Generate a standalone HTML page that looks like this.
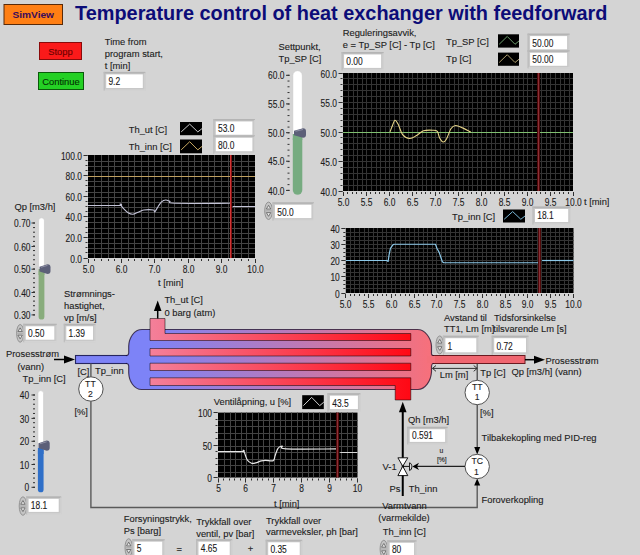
<!DOCTYPE html>
<html><head><meta charset="utf-8"><style>
html,body{margin:0;padding:0;background:#d4d4d4;width:640px;height:555px;overflow:hidden}
svg{display:block}
</style></head><body>
<svg width="640" height="555" viewBox="0 0 640 555" font-family='"Liberation Sans", sans-serif'><defs><linearGradient id="gshell" x1="0" x2="1" y1="0" y2="0"><stop offset="0" stop-color="#7d83f7"/><stop offset="0.08" stop-color="#7d83f7"/><stop offset="1" stop-color="#f8707a"/></linearGradient><linearGradient id="gtube" gradientUnits="userSpaceOnUse" x1="150" x2="411" y1="0" y2="0"><stop offset="0" stop-color="#f4809a"/><stop offset="1" stop-color="#ff0814"/></linearGradient></defs><rect x="0" y="0" width="640" height="555" fill="#d4d4d4"/>
<rect x="4.0" y="4.5" width="58.5" height="20" fill="#ff7f14" stroke="#5a2a08" stroke-width="1"/>
<text transform="translate(33.25 17.6) scale(1.08 1)" font-size="9.4" text-anchor="middle" fill="#3a0c5a" stroke="#3a0c5a" stroke-width="0" font-weight="bold" >SimView</text>
<text x="75" y="20.2" font-size="19.9" text-anchor="start" fill="#0c0c78" stroke="#0c0c78" stroke-width="0" font-weight="bold" >Temperature control of heat exchanger with feedforward</text>
<rect x="39.5" y="42.5" width="42" height="17" fill="#fa1a1a" stroke="#8a0a0a" stroke-width="1"/>
<text transform="translate(60.5 55) scale(0.965 1)" font-size="9.7" text-anchor="middle" fill="#6a0000" stroke="#6a0000" stroke-width="0.12" font-weight="normal" >Stopp</text>
<rect x="38.5" y="72.5" width="45" height="17" fill="#24d024" stroke="#0a5a0a" stroke-width="1"/>
<text transform="translate(61.0 84.6) scale(0.965 1)" font-size="9.7" text-anchor="middle" fill="#033003" stroke="#033003" stroke-width="0.12" font-weight="normal" >Continue</text>
<text transform="translate(104.8 44.9) scale(0.965 1)" font-size="9.7" text-anchor="start" fill="#1c1c1c" stroke="#1c1c1c" stroke-width="0.12" font-weight="normal" >Time from</text>
<text transform="translate(104.8 57.2) scale(0.965 1)" font-size="9.7" text-anchor="start" fill="#1c1c1c" stroke="#1c1c1c" stroke-width="0.12" font-weight="normal" >program start,</text>
<text transform="translate(104.8 69) scale(0.965 1)" font-size="9.7" text-anchor="start" fill="#1c1c1c" stroke="#1c1c1c" stroke-width="0.12" font-weight="normal" >t [min]</text>
<rect x="103.7" y="71.9" width="41.60000000000001" height="18.599999999999994" fill="#c8c8c8"/>
<rect x="103.7" y="71.9" width="41.60000000000001" height="1.6" fill="#b4b4b4"/>
<rect x="103.7" y="71.9" width="1.2" height="18.599999999999994" fill="#bcbcbc"/>
<rect x="144.3" y="72.9" width="1" height="17.599999999999994" fill="#d2d2d2"/>
<rect x="104.7" y="89.5" width="40.60000000000001" height="1" fill="#d6d6d6"/>
<rect x="106.2" y="74.4" width="36.60000000000001" height="13.599999999999994" fill="#ffffff"/>
<text transform="translate(108.4 85.4) scale(0.81 1)" font-size="10.4" text-anchor="start" fill="#1a1a1a" stroke="#1a1a1a" stroke-width="0.12" font-weight="normal" >9.2</text>
<text transform="translate(278.5 49.8) scale(0.965 1)" font-size="9.7" text-anchor="start" fill="#1c1c1c" stroke="#1c1c1c" stroke-width="0.12" font-weight="normal" >Settpunkt,</text>
<text transform="translate(278.5 62) scale(0.965 1)" font-size="9.7" text-anchor="start" fill="#1c1c1c" stroke="#1c1c1c" stroke-width="0.12" font-weight="normal" >Tp_SP [C]</text>
<rect x="292.8" y="70.7" width="9.5" height="124.10000000000001" rx="4.75" fill="#ffffff" stroke="#c8c8c8" stroke-width="0.6"/>
<rect x="292.8" y="134" width="9.5" height="60.80000000000001" rx="4.75" fill="#76ab80"/>
<rect x="292.8" y="134" width="9.5" height="6" fill="#76ab80"/>
<text transform="translate(284.5 79.39999999999999) scale(0.81 1)" font-size="10.4" text-anchor="end" fill="#1c1c1c" stroke="#1c1c1c" stroke-width="0.12" font-weight="normal" >60.0</text>
<text transform="translate(284.5 108.0) scale(0.81 1)" font-size="10.4" text-anchor="end" fill="#1c1c1c" stroke="#1c1c1c" stroke-width="0.12" font-weight="normal" >55.0</text>
<text transform="translate(284.5 136.79999999999998) scale(0.81 1)" font-size="10.4" text-anchor="end" fill="#1c1c1c" stroke="#1c1c1c" stroke-width="0.12" font-weight="normal" >50.0</text>
<text transform="translate(284.5 165.29999999999998) scale(0.81 1)" font-size="10.4" text-anchor="end" fill="#1c1c1c" stroke="#1c1c1c" stroke-width="0.12" font-weight="normal" >45.0</text>
<text transform="translate(284.5 194.5) scale(0.81 1)" font-size="10.4" text-anchor="end" fill="#1c1c1c" stroke="#1c1c1c" stroke-width="0.12" font-weight="normal" >40.0</text>
<path d="M287.5 75.30H289.5M287.5 81.05H289.5M287.5 86.81H289.5M287.5 92.56H289.5M287.5 98.32H289.5M287.5 104.07H289.5M287.5 109.83H289.5M287.5 115.59H289.5M287.5 121.34H289.5M287.5 127.09H289.5M287.5 132.85H289.5M287.5 138.61H289.5M287.5 144.36H289.5M287.5 150.12H289.5M287.5 155.87H289.5M287.5 161.62H289.5M287.5 167.38H289.5M287.5 173.13H289.5M287.5 178.89H289.5M287.5 184.64H289.5M287.5 190.40H289.5M286 75.30H289.5M286 103.90H289.5M286 132.70H289.5M286 161.20H289.5M286 190.40H289.5" stroke="#303030" stroke-width="1" fill="none"/>
<path d="M294 130.77 L303 128.3 Q306 128.3 306 131.3 V134.8 Q306 137.8 303 137.8 L294 135.33 Z" fill="#5c5f78"/>
<path d="M295.5 131.27 L303 129.5" stroke="#9a9cb0" stroke-width="0.8" fill="none"/>
<ellipse cx="268.54999999999995" cy="210.8" rx="3.850000000000006" ry="8.7" fill="#c4c4c4" stroke="#8c8c8c" stroke-width="0.9"/>
<path d="M265.4 210.80 H271.69999999999993" stroke="#a0a0a0" stroke-width="0.7"/>
<path d="M266.34999999999997 209.0 L268.54999999999995 205.3 L270.74999999999994 209.0 Z" fill="#e8e8e8" stroke="#606060" stroke-width="0.8"/>
<path d="M266.34999999999997 212.60000000000002 L268.54999999999995 216.3 L270.74999999999994 212.60000000000002 Z" fill="#e8e8e8" stroke="#606060" stroke-width="0.8"/>
<rect x="272.5" y="202.3" width="41.39999999999998" height="18.299999999999983" fill="#c8c8c8"/>
<rect x="272.5" y="202.3" width="41.39999999999998" height="1.6" fill="#b4b4b4"/>
<rect x="272.5" y="202.3" width="1.2" height="18.299999999999983" fill="#bcbcbc"/>
<rect x="312.9" y="203.3" width="1" height="17.299999999999983" fill="#d2d2d2"/>
<rect x="273.5" y="219.6" width="40.39999999999998" height="1" fill="#d6d6d6"/>
<rect x="275" y="204.8" width="36.39999999999998" height="13.299999999999983" fill="#ffffff"/>
<text transform="translate(277.2 215.5) scale(0.81 1)" font-size="10.4" text-anchor="start" fill="#1a1a1a" stroke="#1a1a1a" stroke-width="0.12" font-weight="normal" >50.0</text>
<text transform="translate(342.7 36) scale(0.965 1)" font-size="9.7" text-anchor="start" fill="#1c1c1c" stroke="#1c1c1c" stroke-width="0.12" font-weight="normal" >Reguleringsavvik,</text>
<text transform="translate(342.7 47.5) scale(0.965 1)" font-size="9.7" text-anchor="start" fill="#1c1c1c" stroke="#1c1c1c" stroke-width="0.12" font-weight="normal" >e = Tp_SP [C] - Tp [C]</text>
<rect x="341.6" y="52.0" width="42.0" height="18.400000000000006" fill="#c8c8c8"/>
<rect x="341.6" y="52.0" width="42.0" height="1.6" fill="#b4b4b4"/>
<rect x="341.6" y="52.0" width="1.2" height="18.400000000000006" fill="#bcbcbc"/>
<rect x="382.6" y="53.0" width="1" height="17.400000000000006" fill="#d2d2d2"/>
<rect x="342.6" y="69.4" width="41.0" height="1" fill="#d6d6d6"/>
<rect x="344.1" y="54.5" width="37.0" height="13.400000000000006" fill="#ffffff"/>
<text transform="translate(346.3 65.30000000000001) scale(0.81 1)" font-size="10.4" text-anchor="start" fill="#1a1a1a" stroke="#1a1a1a" stroke-width="0.12" font-weight="normal" >0.00</text>
<text transform="translate(446 45) scale(0.965 1)" font-size="9.7" text-anchor="start" fill="#1c1c1c" stroke="#1c1c1c" stroke-width="0.12" font-weight="normal" >Tp_SP [C]</text>
<text transform="translate(446 61.5) scale(0.965 1)" font-size="9.7" text-anchor="start" fill="#1c1c1c" stroke="#1c1c1c" stroke-width="0.12" font-weight="normal" >Tp [C]</text>
<rect x="498" y="34.3" width="21" height="13.300000000000004" fill="#000"/>
<path d="M499.20 44.27 L507.24 36.43 L515.01 44.27 L519.00 40.95" fill="none" stroke="#6c9c6c" stroke-width="1"/>
<rect x="498" y="52.6" width="21" height="13.199999999999996" fill="#000"/>
<path d="M499.20 62.50 L507.24 54.71 L515.01 62.50 L519.00 59.20" fill="none" stroke="#b0a070" stroke-width="1"/>
<rect x="527.6" y="33.6" width="42.0" height="18.199999999999996" fill="#c8c8c8"/>
<rect x="527.6" y="33.6" width="42.0" height="1.6" fill="#b4b4b4"/>
<rect x="527.6" y="33.6" width="1.2" height="18.199999999999996" fill="#bcbcbc"/>
<rect x="568.6" y="34.6" width="1" height="17.199999999999996" fill="#d2d2d2"/>
<rect x="528.6" y="50.8" width="41.0" height="1" fill="#d6d6d6"/>
<rect x="530.1" y="36.1" width="37.0" height="13.199999999999996" fill="#ffffff"/>
<text transform="translate(532.3000000000001 46.699999999999996) scale(0.81 1)" font-size="10.4" text-anchor="start" fill="#1a1a1a" stroke="#1a1a1a" stroke-width="0.12" font-weight="normal" >50.00</text>
<rect x="527.6" y="50.3" width="42.0" height="18.0" fill="#c8c8c8"/>
<rect x="527.6" y="50.3" width="42.0" height="1.6" fill="#b4b4b4"/>
<rect x="527.6" y="50.3" width="1.2" height="18.0" fill="#bcbcbc"/>
<rect x="568.6" y="51.3" width="1" height="17.0" fill="#d2d2d2"/>
<rect x="528.6" y="67.3" width="41.0" height="1" fill="#d6d6d6"/>
<rect x="530.1" y="52.8" width="37.0" height="13.0" fill="#ffffff"/>
<text transform="translate(532.3000000000001 63.199999999999996) scale(0.81 1)" font-size="10.4" text-anchor="start" fill="#1a1a1a" stroke="#1a1a1a" stroke-width="0.12" font-weight="normal" >50.00</text>
<rect x="343" y="73" width="230" height="118" fill="#000"/>
<path d="M348.50 73V191M353.50 73V191M357.50 73V191M362.50 73V191M366.50 73V191M371.50 73V191M376.50 73V191M380.50 73V191M385.50 73V191M389.50 73V191M394.50 73V191M399.50 73V191M403.50 73V191M408.50 73V191M412.50 73V191M417.50 73V191M422.50 73V191M426.50 73V191M431.50 73V191M435.50 73V191M440.50 73V191M445.50 73V191M449.50 73V191M454.50 73V191M458.50 73V191M463.50 73V191M468.50 73V191M472.50 73V191M477.50 73V191M481.50 73V191M486.50 73V191M491.50 73V191M495.50 73V191M500.50 73V191M504.50 73V191M509.50 73V191M514.50 73V191M518.50 73V191M523.50 73V191M527.50 73V191M532.50 73V191M537.50 73V191M541.50 73V191M546.50 73V191M550.50 73V191M555.50 73V191M560.50 73V191M564.50 73V191M569.50 73V191M343 78.50H573M343 84.50H573M343 90.50H573M343 96.50H573M343 102.50H573M343 108.50H573M343 114.50H573M343 120.50H573M343 126.50H573M343 132.50H573M343 137.50H573M343 143.50H573M343 149.50H573M343 155.50H573M343 161.50H573M343 167.50H573M343 173.50H573M343 179.50H573M343 185.50H573" stroke="#343434" stroke-width="1" fill="none"/>
<path d="M343.00 132.50 L573.00 132.50" fill="none" stroke="#80c070" stroke-width="1.0" stroke-linejoin="round"/>
<path d="M389.92 132.00 C390.38 130.82 391.84 126.89 392.68 124.92 C393.52 122.95 394.06 120.30 394.98 120.20 C395.90 120.10 396.90 121.87 398.20 124.33 C399.50 126.79 400.88 132.59 402.80 134.95 C404.72 137.31 407.40 138.39 409.70 138.49 C412.00 138.59 414.30 136.82 416.60 135.54 C418.90 134.26 420.82 131.70 423.50 130.82 C426.18 129.94 430.40 130.13 432.70 130.23 C435.00 130.33 436.15 130.13 437.30 131.41 C438.45 132.69 438.60 136.13 439.60 137.90 C440.60 139.67 442.13 141.83 443.28 142.03 C444.43 142.23 445.20 141.34 446.50 139.08 C447.80 136.82 449.57 130.72 451.10 128.46 C452.63 126.20 453.78 125.61 455.70 125.51 C457.62 125.41 460.30 126.89 462.60 127.87 C464.90 128.85 468.12 130.72 469.50 131.41 C470.88 132.10 470.65 131.90 470.88 132.00" fill="none" stroke="#e6d488" stroke-width="1.1" stroke-linejoin="round"/>
<rect x="537" y="73" width="1" height="118" fill="#500808"/>
<rect x="538" y="73" width="1" height="118" fill="#8a3038"/>
<rect x="539" y="73" width="1" height="118" fill="#500808"/>
<text transform="translate(337 195.6) scale(0.81 1)" font-size="10.4" text-anchor="end" fill="#1c1c1c" stroke="#1c1c1c" stroke-width="0.12" font-weight="normal" >40.0</text>
<text transform="translate(337 165.6) scale(0.81 1)" font-size="10.4" text-anchor="end" fill="#1c1c1c" stroke="#1c1c1c" stroke-width="0.12" font-weight="normal" >45.0</text>
<text transform="translate(337 136.6) scale(0.81 1)" font-size="10.4" text-anchor="end" fill="#1c1c1c" stroke="#1c1c1c" stroke-width="0.12" font-weight="normal" >50.0</text>
<text transform="translate(337 106.6) scale(0.81 1)" font-size="10.4" text-anchor="end" fill="#1c1c1c" stroke="#1c1c1c" stroke-width="0.12" font-weight="normal" >55.0</text>
<text transform="translate(337 77.6) scale(0.81 1)" font-size="10.4" text-anchor="end" fill="#1c1c1c" stroke="#1c1c1c" stroke-width="0.12" font-weight="normal" >60.0</text>
<text transform="translate(343.5 205.5) scale(0.81 1)" font-size="10.4" text-anchor="middle" fill="#1c1c1c" stroke="#1c1c1c" stroke-width="0.12" font-weight="normal" >5.0</text>
<text transform="translate(366.5 205.5) scale(0.81 1)" font-size="10.4" text-anchor="middle" fill="#1c1c1c" stroke="#1c1c1c" stroke-width="0.12" font-weight="normal" >5.5</text>
<text transform="translate(389.5 205.5) scale(0.81 1)" font-size="10.4" text-anchor="middle" fill="#1c1c1c" stroke="#1c1c1c" stroke-width="0.12" font-weight="normal" >6.0</text>
<text transform="translate(412.5 205.5) scale(0.81 1)" font-size="10.4" text-anchor="middle" fill="#1c1c1c" stroke="#1c1c1c" stroke-width="0.12" font-weight="normal" >6.5</text>
<text transform="translate(435.5 205.5) scale(0.81 1)" font-size="10.4" text-anchor="middle" fill="#1c1c1c" stroke="#1c1c1c" stroke-width="0.12" font-weight="normal" >7.0</text>
<text transform="translate(458.5 205.5) scale(0.81 1)" font-size="10.4" text-anchor="middle" fill="#1c1c1c" stroke="#1c1c1c" stroke-width="0.12" font-weight="normal" >7.5</text>
<text transform="translate(481.5 205.5) scale(0.81 1)" font-size="10.4" text-anchor="middle" fill="#1c1c1c" stroke="#1c1c1c" stroke-width="0.12" font-weight="normal" >8.0</text>
<text transform="translate(504.5 205.5) scale(0.81 1)" font-size="10.4" text-anchor="middle" fill="#1c1c1c" stroke="#1c1c1c" stroke-width="0.12" font-weight="normal" >8.5</text>
<text transform="translate(527.5 205.5) scale(0.81 1)" font-size="10.4" text-anchor="middle" fill="#1c1c1c" stroke="#1c1c1c" stroke-width="0.12" font-weight="normal" >9.0</text>
<text transform="translate(550.5 205.5) scale(0.81 1)" font-size="10.4" text-anchor="middle" fill="#1c1c1c" stroke="#1c1c1c" stroke-width="0.12" font-weight="normal" >9.5</text>
<text transform="translate(573.5 205.5) scale(0.81 1)" font-size="10.4" text-anchor="middle" fill="#1c1c1c" stroke="#1c1c1c" stroke-width="0.12" font-weight="normal" >10.0</text>
<path d="M340.5 73.50H342.5M340.5 78.50H342.5M340.5 84.50H342.5M340.5 90.50H342.5M340.5 96.50H342.5M340.5 102.50H342.5M340.5 108.50H342.5M340.5 114.50H342.5M340.5 120.50H342.5M340.5 126.50H342.5M340.5 132.50H342.5M340.5 137.50H342.5M340.5 143.50H342.5M340.5 149.50H342.5M340.5 155.50H342.5M340.5 161.50H342.5M340.5 167.50H342.5M340.5 173.50H342.5M340.5 179.50H342.5M340.5 185.50H342.5M340.5 191.50H342.5M338.5 191.50H342.5M338.5 161.50H342.5M338.5 132.50H342.5M338.5 102.50H342.5M338.5 73.50H342.5M343.50 192V194M347.50 192V194M352.50 192V194M356.50 192V194M361.50 192V194M366.50 192V194M370.50 192V194M375.50 192V194M379.50 192V194M384.50 192V194M389.50 192V194M393.50 192V194M398.50 192V194M402.50 192V194M407.50 192V194M412.50 192V194M416.50 192V194M421.50 192V194M425.50 192V194M430.50 192V194M435.50 192V194M439.50 192V194M444.50 192V194M448.50 192V194M453.50 192V194M458.50 192V194M462.50 192V194M467.50 192V194M471.50 192V194M476.50 192V194M481.50 192V194M485.50 192V194M490.50 192V194M494.50 192V194M499.50 192V194M504.50 192V194M508.50 192V194M513.50 192V194M517.50 192V194M522.50 192V194M527.50 192V194M531.50 192V194M536.50 192V194M540.50 192V194M545.50 192V194M550.50 192V194M554.50 192V194M559.50 192V194M563.50 192V194M568.50 192V194M573.50 192V194M343.50 192V196M366.50 192V196M389.50 192V196M412.50 192V196M435.50 192V196M458.50 192V196M481.50 192V196M504.50 192V196M527.50 192V196M550.50 192V196M573.50 192V196" stroke="#303030" stroke-width="1" fill="none"/>
<text transform="translate(584 205) scale(0.965 1)" font-size="9.7" text-anchor="start" fill="#1c1c1c" stroke="#1c1c1c" stroke-width="0.12" font-weight="normal" >t [min]</text>
<text transform="translate(452 219.5) scale(0.965 1)" font-size="9.7" text-anchor="start" fill="#1c1c1c" stroke="#1c1c1c" stroke-width="0.12" font-weight="normal" >Tp_inn [C]</text>
<rect x="503" y="209.5" width="22" height="13.0" fill="#000"/>
<path d="M504.20 219.25 L512.68 211.58 L520.82 219.25 L525.00 216.00" fill="none" stroke="#7ab8d8" stroke-width="1"/>
<rect x="532.5" y="206.5" width="38.200000000000045" height="18.0" fill="#c8c8c8"/>
<rect x="532.5" y="206.5" width="38.200000000000045" height="1.6" fill="#b4b4b4"/>
<rect x="532.5" y="206.5" width="1.2" height="18.0" fill="#bcbcbc"/>
<rect x="569.7" y="207.5" width="1" height="17.0" fill="#d2d2d2"/>
<rect x="533.5" y="223.5" width="37.200000000000045" height="1" fill="#d6d6d6"/>
<rect x="535" y="209" width="33.200000000000045" height="13" fill="#ffffff"/>
<text transform="translate(537.2 219.4) scale(0.81 1)" font-size="10.4" text-anchor="start" fill="#1a1a1a" stroke="#1a1a1a" stroke-width="0.12" font-weight="normal" >18.1</text>
<rect x="345.8" y="228" width="227.7" height="65" fill="#000"/>
<path d="M350.50 228V293M354.50 228V293M359.50 228V293M364.50 228V293M368.50 228V293M373.50 228V293M377.50 228V293M382.50 228V293M386.50 228V293M391.50 228V293M395.50 228V293M400.50 228V293M405.50 228V293M409.50 228V293M414.50 228V293M418.50 228V293M423.50 228V293M427.50 228V293M432.50 228V293M436.50 228V293M441.50 228V293M445.50 228V293M450.50 228V293M455.50 228V293M459.50 228V293M464.50 228V293M468.50 228V293M473.50 228V293M477.50 228V293M482.50 228V293M486.50 228V293M491.50 228V293M496.50 228V293M500.50 228V293M505.50 228V293M509.50 228V293M514.50 228V293M518.50 228V293M523.50 228V293M527.50 228V293M532.50 228V293M537.50 228V293M541.50 228V293M546.50 228V293M550.50 228V293M555.50 228V293M559.50 228V293M564.50 228V293M568.50 228V293M345.8 232.50H573.5M345.8 236.50H573.5M345.8 240.50H573.5M345.8 244.50H573.5M345.8 248.50H573.5M345.8 252.50H573.5M345.8 256.50H573.5M345.8 260.50H573.5M345.8 264.50H573.5M345.8 268.50H573.5M345.8 272.50H573.5M345.8 276.50H573.5M345.8 280.50H573.5M345.8 284.50H573.5M345.8 288.50H573.5" stroke="#343434" stroke-width="1" fill="none"/>
<path d="M345.80 260.50 L386.79 260.50 L388.15 261.48 L389.06 254.81 L390.43 248.31 L392.71 245.06 L394.07 244.25 L435.51 244.25 L436.88 248.31 L439.16 252.38 L442.34 261.80 L443.71 262.77 L540.71 262.77" fill="none" stroke="#8cc8e8" stroke-width="1.2" stroke-linejoin="round"/>
<path d="M542.08 260.50 L573.50 260.50" fill="none" stroke="#8cc8e8" stroke-width="1.2" stroke-linejoin="round"/>
<rect x="538" y="228" width="1" height="65" fill="#500808"/>
<rect x="539" y="228" width="1" height="65" fill="#8a3038"/>
<rect x="540" y="228" width="1" height="65" fill="#500808"/>
<text transform="translate(339.8 297.6) scale(0.81 1)" font-size="10.4" text-anchor="end" fill="#1c1c1c" stroke="#1c1c1c" stroke-width="0.12" font-weight="normal" >0</text>
<text transform="translate(339.8 280.6) scale(0.81 1)" font-size="10.4" text-anchor="end" fill="#1c1c1c" stroke="#1c1c1c" stroke-width="0.12" font-weight="normal" >10</text>
<text transform="translate(339.8 264.6) scale(0.81 1)" font-size="10.4" text-anchor="end" fill="#1c1c1c" stroke="#1c1c1c" stroke-width="0.12" font-weight="normal" >20</text>
<text transform="translate(339.8 248.6) scale(0.81 1)" font-size="10.4" text-anchor="end" fill="#1c1c1c" stroke="#1c1c1c" stroke-width="0.12" font-weight="normal" >30</text>
<text transform="translate(339.8 232.6) scale(0.81 1)" font-size="10.4" text-anchor="end" fill="#1c1c1c" stroke="#1c1c1c" stroke-width="0.12" font-weight="normal" >40</text>
<text transform="translate(345.5 307.5) scale(0.81 1)" font-size="10.4" text-anchor="middle" fill="#1c1c1c" stroke="#1c1c1c" stroke-width="0.12" font-weight="normal" >5.0</text>
<text transform="translate(368.5 307.5) scale(0.81 1)" font-size="10.4" text-anchor="middle" fill="#1c1c1c" stroke="#1c1c1c" stroke-width="0.12" font-weight="normal" >5.5</text>
<text transform="translate(391.5 307.5) scale(0.81 1)" font-size="10.4" text-anchor="middle" fill="#1c1c1c" stroke="#1c1c1c" stroke-width="0.12" font-weight="normal" >6.0</text>
<text transform="translate(414.5 307.5) scale(0.81 1)" font-size="10.4" text-anchor="middle" fill="#1c1c1c" stroke="#1c1c1c" stroke-width="0.12" font-weight="normal" >6.5</text>
<text transform="translate(436.5 307.5) scale(0.81 1)" font-size="10.4" text-anchor="middle" fill="#1c1c1c" stroke="#1c1c1c" stroke-width="0.12" font-weight="normal" >7.0</text>
<text transform="translate(459.5 307.5) scale(0.81 1)" font-size="10.4" text-anchor="middle" fill="#1c1c1c" stroke="#1c1c1c" stroke-width="0.12" font-weight="normal" >7.5</text>
<text transform="translate(482.5 307.5) scale(0.81 1)" font-size="10.4" text-anchor="middle" fill="#1c1c1c" stroke="#1c1c1c" stroke-width="0.12" font-weight="normal" >8.0</text>
<text transform="translate(505.5 307.5) scale(0.81 1)" font-size="10.4" text-anchor="middle" fill="#1c1c1c" stroke="#1c1c1c" stroke-width="0.12" font-weight="normal" >8.5</text>
<text transform="translate(527.5 307.5) scale(0.81 1)" font-size="10.4" text-anchor="middle" fill="#1c1c1c" stroke="#1c1c1c" stroke-width="0.12" font-weight="normal" >9.0</text>
<text transform="translate(550.5 307.5) scale(0.81 1)" font-size="10.4" text-anchor="middle" fill="#1c1c1c" stroke="#1c1c1c" stroke-width="0.12" font-weight="normal" >9.5</text>
<text transform="translate(573.5 307.5) scale(0.81 1)" font-size="10.4" text-anchor="middle" fill="#1c1c1c" stroke="#1c1c1c" stroke-width="0.12" font-weight="normal" >10.0</text>
<path d="M343.3 228.50H345.3M343.3 232.50H345.3M343.3 236.50H345.3M343.3 240.50H345.3M343.3 244.50H345.3M343.3 248.50H345.3M343.3 252.50H345.3M343.3 256.50H345.3M343.3 260.50H345.3M343.3 264.50H345.3M343.3 268.50H345.3M343.3 272.50H345.3M343.3 276.50H345.3M343.3 280.50H345.3M343.3 284.50H345.3M343.3 288.50H345.3M343.3 293.50H345.3M341.3 293.50H345.3M341.3 276.50H345.3M341.3 260.50H345.3M341.3 244.50H345.3M341.3 228.50H345.3M345.50 294V296M350.50 294V296M354.50 294V296M359.50 294V296M364.50 294V296M368.50 294V296M373.50 294V296M377.50 294V296M382.50 294V296M386.50 294V296M391.50 294V296M395.50 294V296M400.50 294V296M405.50 294V296M409.50 294V296M414.50 294V296M418.50 294V296M423.50 294V296M427.50 294V296M432.50 294V296M436.50 294V296M441.50 294V296M445.50 294V296M450.50 294V296M455.50 294V296M459.50 294V296M464.50 294V296M468.50 294V296M473.50 294V296M477.50 294V296M482.50 294V296M486.50 294V296M491.50 294V296M496.50 294V296M500.50 294V296M505.50 294V296M509.50 294V296M514.50 294V296M518.50 294V296M523.50 294V296M527.50 294V296M532.50 294V296M537.50 294V296M541.50 294V296M546.50 294V296M550.50 294V296M555.50 294V296M559.50 294V296M564.50 294V296M568.50 294V296M573.50 294V296M345.50 294V298M368.50 294V298M391.50 294V298M414.50 294V298M436.50 294V298M459.50 294V298M482.50 294V298M505.50 294V298M527.50 294V298M550.50 294V298M573.50 294V298" stroke="#303030" stroke-width="1" fill="none"/>
<text transform="translate(128.75 132.5) scale(0.965 1)" font-size="9.7" text-anchor="start" fill="#1c1c1c" stroke="#1c1c1c" stroke-width="0.12" font-weight="normal" >Th_ut [C]</text>
<text transform="translate(128.75 150) scale(0.965 1)" font-size="9.7" text-anchor="start" fill="#1c1c1c" stroke="#1c1c1c" stroke-width="0.12" font-weight="normal" >Th_inn [C]</text>
<rect x="180" y="122" width="22" height="13.199999999999989" fill="#000"/>
<path d="M181.20 131.90 L189.68 124.11 L197.82 131.90 L202.00 128.60" fill="none" stroke="#c8c8c8" stroke-width="1"/>
<rect x="180" y="139.5" width="22" height="13.800000000000011" fill="#000"/>
<path d="M181.20 149.85 L189.68 141.71 L197.82 149.85 L202.00 146.40" fill="none" stroke="#c8a860" stroke-width="1"/>
<rect x="213.3" y="119.0" width="41.599999999999994" height="18.19999999999999" fill="#c8c8c8"/>
<rect x="213.3" y="119.0" width="41.599999999999994" height="1.6" fill="#b4b4b4"/>
<rect x="213.3" y="119.0" width="1.2" height="18.19999999999999" fill="#bcbcbc"/>
<rect x="253.9" y="120.0" width="1" height="17.19999999999999" fill="#d2d2d2"/>
<rect x="214.3" y="136.2" width="40.599999999999994" height="1" fill="#d6d6d6"/>
<rect x="215.8" y="121.5" width="36.599999999999994" height="13.199999999999989" fill="#ffffff"/>
<text transform="translate(218.0 132.1) scale(0.81 1)" font-size="10.4" text-anchor="start" fill="#1a1a1a" stroke="#1a1a1a" stroke-width="0.12" font-weight="normal" >53.0</text>
<rect x="213.3" y="135.3" width="41.599999999999994" height="18.399999999999977" fill="#c8c8c8"/>
<rect x="213.3" y="135.3" width="41.599999999999994" height="1.6" fill="#b4b4b4"/>
<rect x="213.3" y="135.3" width="1.2" height="18.399999999999977" fill="#bcbcbc"/>
<rect x="253.9" y="136.3" width="1" height="17.399999999999977" fill="#d2d2d2"/>
<rect x="214.3" y="152.7" width="40.599999999999994" height="1" fill="#d6d6d6"/>
<rect x="215.8" y="137.8" width="36.599999999999994" height="13.399999999999977" fill="#ffffff"/>
<text transform="translate(218.0 148.6) scale(0.81 1)" font-size="10.4" text-anchor="start" fill="#1a1a1a" stroke="#1a1a1a" stroke-width="0.12" font-weight="normal" >80.0</text>
<rect x="88" y="155" width="167" height="103" fill="#000"/>
<path d="M94.50 155V258M101.50 155V258M108.50 155V258M114.50 155V258M121.50 155V258M128.50 155V258M134.50 155V258M141.50 155V258M148.50 155V258M154.50 155V258M161.50 155V258M168.50 155V258M174.50 155V258M181.50 155V258M188.50 155V258M194.50 155V258M201.50 155V258M208.50 155V258M214.50 155V258M221.50 155V258M228.50 155V258M234.50 155V258M241.50 155V258M248.50 155V258M88 161.50H255M88 166.50H255M88 171.50H255M88 176.50H255M88 181.50H255M88 186.50H255M88 192.50H255M88 197.50H255M88 202.50H255M88 207.50H255M88 212.50H255M88 217.50H255M88 222.50H255M88 228.50H255M88 233.50H255M88 238.50H255M88 243.50H255M88 248.50H255M88 253.50H255" stroke="#444444" stroke-width="1" fill="none"/>
<path d="M88.00 176.50 L255.00 176.50" fill="none" stroke="#c0a060" stroke-width="1.0" stroke-linejoin="round"/>
<path d="M88.00 205.47 C93.20 205.47 113.86 205.71 119.20 205.47 C124.53 205.23 119.35 203.60 120.00 204.03 C120.64 204.46 121.72 206.60 123.07 208.05 C124.42 209.49 126.44 211.65 128.08 212.68 C129.72 213.71 131.22 214.31 132.89 214.22 C134.56 214.14 136.28 212.87 138.10 212.16 C139.92 211.46 141.26 210.36 143.81 210.00 C146.36 209.64 151.58 209.68 153.40 210.00 C155.21 210.33 153.91 212.54 154.70 211.96 C155.49 211.38 157.01 208.18 158.14 206.50 C159.27 204.82 160.22 202.95 161.48 201.87 C162.74 200.78 164.30 200.10 165.69 200.01 C167.08 199.93 168.24 200.80 169.83 201.35 C171.42 201.90 165.19 202.98 175.21 203.31 C185.23 203.63 220.83 203.31 229.95 203.31" fill="none" stroke="#c4c4d8" stroke-width="1.1" stroke-linejoin="round"/>
<path d="M232.62 206.50 L255.00 206.50" fill="none" stroke="#c4c4d8" stroke-width="1.0" stroke-linejoin="round"/>
<rect x="230" y="155" width="1" height="103" fill="#d03838"/>
<rect x="231" y="155" width="1" height="103" fill="#801010"/>
<text transform="translate(82 262.6) scale(0.81 1)" font-size="10.4" text-anchor="end" fill="#1c1c1c" stroke="#1c1c1c" stroke-width="0.12" font-weight="normal" >0.0</text>
<text transform="translate(82 241.6) scale(0.81 1)" font-size="10.4" text-anchor="end" fill="#1c1c1c" stroke="#1c1c1c" stroke-width="0.12" font-weight="normal" >20.0</text>
<text transform="translate(82 220.6) scale(0.81 1)" font-size="10.4" text-anchor="end" fill="#1c1c1c" stroke="#1c1c1c" stroke-width="0.12" font-weight="normal" >40.0</text>
<text transform="translate(82 200.6) scale(0.81 1)" font-size="10.4" text-anchor="end" fill="#1c1c1c" stroke="#1c1c1c" stroke-width="0.12" font-weight="normal" >60.0</text>
<text transform="translate(82 179.6) scale(0.81 1)" font-size="10.4" text-anchor="end" fill="#1c1c1c" stroke="#1c1c1c" stroke-width="0.12" font-weight="normal" >80.0</text>
<text transform="translate(82 159.6) scale(0.81 1)" font-size="10.4" text-anchor="end" fill="#1c1c1c" stroke="#1c1c1c" stroke-width="0.12" font-weight="normal" >100.0</text>
<text transform="translate(88.5 272.5) scale(0.81 1)" font-size="10.4" text-anchor="middle" fill="#1c1c1c" stroke="#1c1c1c" stroke-width="0.12" font-weight="normal" >5.0</text>
<text transform="translate(121.5 272.5) scale(0.81 1)" font-size="10.4" text-anchor="middle" fill="#1c1c1c" stroke="#1c1c1c" stroke-width="0.12" font-weight="normal" >6.0</text>
<text transform="translate(154.5 272.5) scale(0.81 1)" font-size="10.4" text-anchor="middle" fill="#1c1c1c" stroke="#1c1c1c" stroke-width="0.12" font-weight="normal" >7.0</text>
<text transform="translate(188.5 272.5) scale(0.81 1)" font-size="10.4" text-anchor="middle" fill="#1c1c1c" stroke="#1c1c1c" stroke-width="0.12" font-weight="normal" >8.0</text>
<text transform="translate(221.5 272.5) scale(0.81 1)" font-size="10.4" text-anchor="middle" fill="#1c1c1c" stroke="#1c1c1c" stroke-width="0.12" font-weight="normal" >9.0</text>
<text transform="translate(255.5 272.5) scale(0.81 1)" font-size="10.4" text-anchor="middle" fill="#1c1c1c" stroke="#1c1c1c" stroke-width="0.12" font-weight="normal" >10.0</text>
<path d="M85.5 155.50H87.5M85.5 160.50H87.5M85.5 165.50H87.5M85.5 170.50H87.5M85.5 175.50H87.5M85.5 180.50H87.5M85.5 185.50H87.5M85.5 191.50H87.5M85.5 196.50H87.5M85.5 201.50H87.5M85.5 206.50H87.5M85.5 211.50H87.5M85.5 216.50H87.5M85.5 221.50H87.5M85.5 227.50H87.5M85.5 232.50H87.5M85.5 237.50H87.5M85.5 242.50H87.5M85.5 247.50H87.5M85.5 252.50H87.5M85.5 258.50H87.5M83.5 258.50H87.5M83.5 237.50H87.5M83.5 216.50H87.5M83.5 196.50H87.5M83.5 175.50H87.5M83.5 155.50H87.5M88.50 259V261M94.50 259V261M101.50 259V261M108.50 259V261M114.50 259V261M121.50 259V261M128.50 259V261M134.50 259V261M141.50 259V261M148.50 259V261M154.50 259V261M161.50 259V261M168.50 259V261M174.50 259V261M181.50 259V261M188.50 259V261M194.50 259V261M201.50 259V261M208.50 259V261M214.50 259V261M221.50 259V261M228.50 259V261M234.50 259V261M241.50 259V261M248.50 259V261M255.50 259V261M88.50 259V263M121.50 259V263M154.50 259V263M188.50 259V263M221.50 259V263M255.50 259V263" stroke="#303030" stroke-width="1" fill="none"/>
<text transform="translate(158 286) scale(0.965 1)" font-size="9.7" text-anchor="start" fill="#1c1c1c" stroke="#1c1c1c" stroke-width="0.12" font-weight="normal" >t [min]</text>
<text transform="translate(14.4 210) scale(0.965 1)" font-size="9.7" text-anchor="start" fill="#1c1c1c" stroke="#1c1c1c" stroke-width="0.12" font-weight="normal" >Qp [m3/h]</text>
<rect x="38.6" y="217.8" width="5.799999999999997" height="101.80000000000001" rx="2.8999999999999986" fill="#ffffff" stroke="#c8c8c8" stroke-width="0.6"/>
<rect x="38.6" y="269" width="5.799999999999997" height="50.60000000000002" rx="2.8999999999999986" fill="#88ac7c"/>
<rect x="38.6" y="269" width="5.799999999999997" height="6" fill="#88ac7c"/>
<text transform="translate(30.5 227.1) scale(0.81 1)" font-size="10.4" text-anchor="end" fill="#1c1c1c" stroke="#1c1c1c" stroke-width="0.12" font-weight="normal" >0.70</text>
<text transform="translate(30.5 250.6) scale(0.81 1)" font-size="10.4" text-anchor="end" fill="#1c1c1c" stroke="#1c1c1c" stroke-width="0.12" font-weight="normal" >0.60</text>
<text transform="translate(30.5 273.3) scale(0.81 1)" font-size="10.4" text-anchor="end" fill="#1c1c1c" stroke="#1c1c1c" stroke-width="0.12" font-weight="normal" >0.50</text>
<text transform="translate(30.5 296.6) scale(0.81 1)" font-size="10.4" text-anchor="end" fill="#1c1c1c" stroke="#1c1c1c" stroke-width="0.12" font-weight="normal" >0.40</text>
<text transform="translate(30.5 319.0) scale(0.81 1)" font-size="10.4" text-anchor="end" fill="#1c1c1c" stroke="#1c1c1c" stroke-width="0.12" font-weight="normal" >0.30</text>
<path d="M33.0 223.00H35.0M33.0 227.59H35.0M33.0 232.19H35.0M33.0 236.78H35.0M33.0 241.38H35.0M33.0 245.97H35.0M33.0 250.57H35.0M33.0 255.16H35.0M33.0 259.76H35.0M33.0 264.36H35.0M33.0 268.95H35.0M33.0 273.54H35.0M33.0 278.14H35.0M33.0 282.74H35.0M33.0 287.33H35.0M33.0 291.92H35.0M33.0 296.52H35.0M33.0 301.12H35.0M33.0 305.71H35.0M33.0 310.30H35.0M33.0 314.90H35.0M31.5 223.00H35.0M31.5 246.50H35.0M31.5 269.20H35.0M31.5 292.50H35.0M31.5 314.90H35.0" stroke="#303030" stroke-width="1" fill="none"/>
<path d="M39.5 266.75 L47.5 264.2 Q50.5 264.2 50.5 267.2 V271 Q50.5 274 47.5 274 L39.5 271.45 Z" fill="#5c5f78"/>
<path d="M41.0 267.25 L47.5 265.4" stroke="#9a9cb0" stroke-width="0.8" fill="none"/>
<ellipse cx="20.15" cy="333.35" rx="3.55" ry="8.850000000000005" fill="#c4c4c4" stroke="#8c8c8c" stroke-width="0.9"/>
<path d="M17.299999999999997 333.35 H23.0" stroke="#a0a0a0" stroke-width="0.7"/>
<path d="M17.95 331.55 L20.15 327.85 L22.349999999999998 331.55 Z" fill="#e8e8e8" stroke="#606060" stroke-width="0.8"/>
<path d="M17.95 335.15000000000003 L20.15 338.85 L22.349999999999998 335.15000000000003 Z" fill="#e8e8e8" stroke="#606060" stroke-width="0.8"/>
<rect x="23.25" y="323.8" width="33.55" height="18.399999999999977" fill="#c8c8c8"/>
<rect x="23.25" y="323.8" width="33.55" height="1.6" fill="#b4b4b4"/>
<rect x="23.25" y="323.8" width="1.2" height="18.399999999999977" fill="#bcbcbc"/>
<rect x="55.8" y="324.8" width="1" height="17.399999999999977" fill="#d2d2d2"/>
<rect x="24.25" y="341.2" width="32.55" height="1" fill="#d6d6d6"/>
<rect x="25.75" y="326.3" width="28.549999999999997" height="13.399999999999977" fill="#ffffff"/>
<text transform="translate(27.95 337.09999999999997) scale(0.81 1)" font-size="10.4" text-anchor="start" fill="#1a1a1a" stroke="#1a1a1a" stroke-width="0.12" font-weight="normal" >0.50</text>
<text transform="translate(64 296.5) scale(0.965 1)" font-size="9.7" text-anchor="start" fill="#1c1c1c" stroke="#1c1c1c" stroke-width="0.12" font-weight="normal" >Strømnings-</text>
<text transform="translate(64 308.5) scale(0.965 1)" font-size="9.7" text-anchor="start" fill="#1c1c1c" stroke="#1c1c1c" stroke-width="0.12" font-weight="normal" >hastighet,</text>
<text transform="translate(64 320.5) scale(0.965 1)" font-size="9.7" text-anchor="start" fill="#1c1c1c" stroke="#1c1c1c" stroke-width="0.12" font-weight="normal" >vp [m/s]</text>
<rect x="63.8" y="323.8" width="31.700000000000003" height="18.399999999999977" fill="#c8c8c8"/>
<rect x="63.8" y="323.8" width="31.700000000000003" height="1.6" fill="#b4b4b4"/>
<rect x="63.8" y="323.8" width="1.2" height="18.399999999999977" fill="#bcbcbc"/>
<rect x="94.5" y="324.8" width="1" height="17.399999999999977" fill="#d2d2d2"/>
<rect x="64.8" y="341.2" width="30.700000000000003" height="1" fill="#d6d6d6"/>
<rect x="66.3" y="326.3" width="26.700000000000003" height="13.399999999999977" fill="#ffffff"/>
<text transform="translate(68.5 337.09999999999997) scale(0.81 1)" font-size="10.4" text-anchor="start" fill="#1a1a1a" stroke="#1a1a1a" stroke-width="0.12" font-weight="normal" >1.39</text>
<text transform="translate(6 357) scale(0.965 1)" font-size="9.7" text-anchor="start" fill="#1c1c1c" stroke="#1c1c1c" stroke-width="0.12" font-weight="normal" >Prosesstrøm</text>
<text transform="translate(17.5 369.5) scale(0.965 1)" font-size="9.7" text-anchor="start" fill="#1c1c1c" stroke="#1c1c1c" stroke-width="0.12" font-weight="normal" >(vann)</text>
<text transform="translate(22.6 382.2) scale(0.965 1)" font-size="9.7" text-anchor="start" fill="#1c1c1c" stroke="#1c1c1c" stroke-width="0.12" font-weight="normal" >Tp_inn [C]</text>
<rect x="37.9" y="390.6" width="5.700000000000003" height="101.69999999999999" rx="2.8500000000000014" fill="#ffffff" stroke="#c8c8c8" stroke-width="0.6"/>
<rect x="37.9" y="448" width="5.700000000000003" height="44.30000000000001" rx="2.8500000000000014" fill="#2f6fc8"/>
<rect x="37.9" y="448" width="5.700000000000003" height="6" fill="#2f6fc8"/>
<text transform="translate(29.2 399.1) scale(0.81 1)" font-size="10.4" text-anchor="end" fill="#1c1c1c" stroke="#1c1c1c" stroke-width="0.12" font-weight="normal" >40</text>
<text transform="translate(29.2 422.5) scale(0.81 1)" font-size="10.4" text-anchor="end" fill="#1c1c1c" stroke="#1c1c1c" stroke-width="0.12" font-weight="normal" >30</text>
<text transform="translate(29.2 445.40000000000003) scale(0.81 1)" font-size="10.4" text-anchor="end" fill="#1c1c1c" stroke="#1c1c1c" stroke-width="0.12" font-weight="normal" >20</text>
<text transform="translate(29.2 468.6) scale(0.81 1)" font-size="10.4" text-anchor="end" fill="#1c1c1c" stroke="#1c1c1c" stroke-width="0.12" font-weight="normal" >10</text>
<text transform="translate(29.2 491.40000000000003) scale(0.81 1)" font-size="10.4" text-anchor="end" fill="#1c1c1c" stroke="#1c1c1c" stroke-width="0.12" font-weight="normal" >0</text>
<path d="M33.0 395.00H35.0M33.0 399.62H35.0M33.0 404.23H35.0M33.0 408.85H35.0M33.0 413.46H35.0M33.0 418.07H35.0M33.0 422.69H35.0M33.0 427.31H35.0M33.0 431.92H35.0M33.0 436.54H35.0M33.0 441.15H35.0M33.0 445.76H35.0M33.0 450.38H35.0M33.0 455.00H35.0M33.0 459.61H35.0M33.0 464.23H35.0M33.0 468.84H35.0M33.0 473.46H35.0M33.0 478.07H35.0M33.0 482.69H35.0M33.0 487.30H35.0M31.5 395.00H35.0M31.5 418.40H35.0M31.5 441.30H35.0M31.5 464.50H35.0M31.5 487.30H35.0" stroke="#303030" stroke-width="1" fill="none"/>
<path d="M38.5 443.23 L46.7 440.6 Q49.7 440.6 49.7 443.6 V447.7 Q49.7 450.7 46.7 450.7 L38.5 448.07 Z" fill="#5c5f78"/>
<path d="M40.0 443.73 L46.7 441.8" stroke="#9a9cb0" stroke-width="0.8" fill="none"/>
<ellipse cx="22.95" cy="506.05" rx="3.750000000000001" ry="9.25000000000001" fill="#c4c4c4" stroke="#8c8c8c" stroke-width="0.9"/>
<path d="M19.9 506.05 H26.0" stroke="#a0a0a0" stroke-width="0.7"/>
<path d="M20.75 504.25 L22.95 500.55 L25.15 504.25 Z" fill="#e8e8e8" stroke="#606060" stroke-width="0.8"/>
<path d="M20.75 507.85 L22.95 511.55 L25.15 507.85 Z" fill="#e8e8e8" stroke="#606060" stroke-width="0.8"/>
<rect x="26.1" y="496.4" width="35.1" height="18.0" fill="#c8c8c8"/>
<rect x="26.1" y="496.4" width="35.1" height="1.6" fill="#b4b4b4"/>
<rect x="26.1" y="496.4" width="1.2" height="18.0" fill="#bcbcbc"/>
<rect x="60.2" y="497.4" width="1" height="17.0" fill="#d2d2d2"/>
<rect x="27.1" y="513.4" width="34.1" height="1" fill="#d6d6d6"/>
<rect x="28.6" y="498.9" width="30.1" height="13.0" fill="#ffffff"/>
<text transform="translate(30.8 509.29999999999995) scale(0.81 1)" font-size="10.4" text-anchor="start" fill="#1a1a1a" stroke="#1a1a1a" stroke-width="0.12" font-weight="normal" >18.1</text>
<rect x="75.5" y="355.5" width="56" height="8" fill="#7d83f7" stroke="#262660" stroke-width="1.1"/>
<rect x="428" y="355.5" width="97" height="8" fill="#f06670" stroke="#6a1a20" stroke-width="1"/>
<path d="M142 329.5 H417.5 C425 329.5 431 338 431.5 346 V354 Q432 355.5 433 355.5 V363.5 Q432 363.5 431.5 366 V372 C431 381 425 389.5 418 389.5 H141.5 C134 389.5 129 381 128.7 373 V366 Q128.5 363.5 126.5 363.5 V355.5 Q128.5 355.5 128.7 353 V346 C129 338 134 329.5 142 329.5 Z" fill="url(#gshell)" stroke="#100020" stroke-opacity="0.7" stroke-width="1.15"/>
<rect x="120" y="356.1" width="12" height="6.8" fill="#7d83f7"/>
<rect x="427" y="356" width="8" height="7" fill="#f4707a"/>
<path d="M150 318.5 H165 V333.5 H410.8 V340.5 H150 Z" fill="url(#gtube)" stroke="#000" stroke-opacity="0.5" stroke-width="1"/>
<path d="M150 348.5 H410.8 V356 H150 Z" fill="url(#gtube)" stroke="#000" stroke-opacity="0.5" stroke-width="1"/>
<path d="M150 363.2 H410.8 V370.5 H150 Z" fill="url(#gtube)" stroke="#000" stroke-opacity="0.5" stroke-width="1"/>
<path d="M150 377.8 H410.8 V400 H395.2 V385.5 H150 Z" fill="url(#gtube)" stroke="#000" stroke-opacity="0.5" stroke-width="1"/>
<path d="M54 359.5 H66" stroke="#000" stroke-width="1.5"/>
<path d="M75 359.5 L64.00 363.50 L64.00 355.50 Z" fill="#000"/>
<path d="M525 359.7 H536" stroke="#000" stroke-width="1.5"/>
<path d="M545 359.7 L534.00 363.70 L534.00 355.70 Z" fill="#000"/>
<text transform="translate(545.5 363.6) scale(0.965 1)" font-size="9.7" text-anchor="start" fill="#1c1c1c" stroke="#1c1c1c" stroke-width="0.12" font-weight="normal" >Prosesstrøm</text>
<text transform="translate(511.4 375) scale(0.965 1)" font-size="9.7" text-anchor="start" fill="#1c1c1c" stroke="#1c1c1c" stroke-width="0.12" font-weight="normal" >Qp [m3/h] (vann)</text>
<path d="M157.7 318.5 V309" stroke="#000" stroke-width="1.5"/>
<path d="M157.7 300.6 L161.50 311.10 L153.90 311.10 Z" fill="#000"/>
<text transform="translate(164.4 303.4) scale(0.965 1)" font-size="9.7" text-anchor="start" fill="#1c1c1c" stroke="#1c1c1c" stroke-width="0.12" font-weight="normal" >Th_ut [C]</text>
<text transform="translate(164.4 315.5) scale(0.965 1)" font-size="9.7" text-anchor="start" fill="#1c1c1c" stroke="#1c1c1c" stroke-width="0.12" font-weight="normal" >0 barg (atm)</text>
<path d="M90.9 363.5 V377 M90.9 401 V507.5 H477.2 V485" stroke="#5a5a5a" stroke-width="1.4" fill="none"/>
<circle cx="90.9" cy="389" r="12.2" fill="#fff" stroke="#505050" stroke-width="1"/>
<text transform="translate(90.4 387.2) scale(0.965 1)" font-size="9" text-anchor="middle" fill="#1c1c1c" stroke="#1c1c1c" stroke-width="0.12" font-weight="normal" >TT</text>
<text transform="translate(90.4 397.2) scale(0.965 1)" font-size="9" text-anchor="middle" fill="#1c1c1c" stroke="#1c1c1c" stroke-width="0.12" font-weight="normal" >2</text>
<text transform="translate(77.5 375) scale(0.965 1)" font-size="9.7" text-anchor="start" fill="#1c1c1c" stroke="#1c1c1c" stroke-width="0.12" font-weight="normal" >[C]</text>
<text transform="translate(95 373.8) scale(0.965 1)" font-size="9.7" text-anchor="start" fill="#1c1c1c" stroke="#1c1c1c" stroke-width="0.12" font-weight="normal" >Tp_inn</text>
<text transform="translate(74.4 414.5) scale(0.965 1)" font-size="9.7" text-anchor="start" fill="#1c1c1c" stroke="#1c1c1c" stroke-width="0.12" font-weight="normal" >[%]</text>
<path d="M432.5 368.4 H477.2" stroke="#202020" stroke-width="0.9"/>
<path d="M436 365.5 L432.5 368.4 L436 371.3 M473.7 365.5 L477.2 368.4 L473.7 371.3" stroke="#202020" stroke-width="0.9" fill="none"/>
<path d="M477.2 363.5 V380.3 M477.2 404.7 V447" stroke="#404040" stroke-width="1.2" fill="none"/>
<text transform="translate(439.7 377.8) scale(0.965 1)" font-size="9.7" text-anchor="start" fill="#1c1c1c" stroke="#1c1c1c" stroke-width="0.12" font-weight="normal" >Lm [m]</text>
<text transform="translate(480.2 375.5) scale(0.965 1)" font-size="9.7" text-anchor="start" fill="#1c1c1c" stroke="#1c1c1c" stroke-width="0.12" font-weight="normal" >Tp [C]</text>
<circle cx="477.2" cy="392.5" r="12.2" fill="#fff" stroke="#505050" stroke-width="1"/>
<text transform="translate(477.2 390) scale(0.965 1)" font-size="9" text-anchor="middle" fill="#1c1c1c" stroke="#1c1c1c" stroke-width="0.12" font-weight="normal" >TT</text>
<text transform="translate(477.2 400.3) scale(0.965 1)" font-size="9" text-anchor="middle" fill="#1c1c1c" stroke="#1c1c1c" stroke-width="0.12" font-weight="normal" >1</text>
<text transform="translate(480 415.5) scale(0.965 1)" font-size="9.7" text-anchor="start" fill="#1c1c1c" stroke="#1c1c1c" stroke-width="0.12" font-weight="normal" >[%]</text>
<text transform="translate(481.6 441) scale(0.965 1)" font-size="9.7" text-anchor="start" fill="#1c1c1c" stroke="#1c1c1c" stroke-width="0.12" font-weight="normal" >Tilbakekopling med PID-reg</text>
<path d="M477.2 454.6 L474.20 447.10 L480.20 447.10 Z" fill="#000"/>
<circle cx="477.2" cy="466.5" r="12.2" fill="#fff" stroke="#505050" stroke-width="1"/>
<text transform="translate(477.2 463.6) scale(0.965 1)" font-size="9" text-anchor="middle" fill="#1c1c1c" stroke="#1c1c1c" stroke-width="0.12" font-weight="normal" >TC</text>
<text transform="translate(476.5 474.8) scale(0.965 1)" font-size="9" text-anchor="middle" fill="#1c1c1c" stroke="#1c1c1c" stroke-width="0.12" font-weight="normal" >1</text>
<path d="M477.2 478.6 L480.20 485.60 L474.20 485.60 Z" fill="#000"/>
<text transform="translate(481.6 503) scale(0.965 1)" font-size="9.7" text-anchor="start" fill="#1c1c1c" stroke="#1c1c1c" stroke-width="0.12" font-weight="normal" >Foroverkopling</text>
<path d="M417 466.4 H465" stroke="#202020" stroke-width="1.1"/>
<path d="M412.3 466.4 L419 462.8 L417 466.4 L419 470 Z" fill="#000"/>
<path d="M402.75 466.4 H409.5" stroke="#101010" stroke-width="1"/>
<path d="M409.6 462.8 C412.6 463.6 412.6 469.6 409.6 470.6 Z" fill="#f0f0f0" stroke="#101010" stroke-width="1"/>
<text transform="translate(441.3 453) scale(0.965 1)" font-size="7" text-anchor="middle" fill="#1c1c1c" stroke="#1c1c1c" stroke-width="0.12" font-weight="normal" >u</text>
<text transform="translate(441.8 462.3) scale(0.965 1)" font-size="7" text-anchor="middle" fill="#1c1c1c" stroke="#1c1c1c" stroke-width="0.12" font-weight="normal" >[%]</text>
<path d="M402.75 496 V411" stroke="#000" stroke-width="2"/>
<path d="M402.75 401.8 L406.55 412.30 L398.95 412.30 Z" fill="#000"/>
<path d="M397.9 457.8 H407.8 L402.75 466.25 Z M397.9 475.6 H407.8 L402.75 466.25 Z" fill="#fff" stroke="#000" stroke-width="0.9"/>
<text transform="translate(382.6 470.2) scale(0.965 1)" font-size="9.7" text-anchor="start" fill="#1c1c1c" stroke="#1c1c1c" stroke-width="0.12" font-weight="normal" >V-1</text>
<text transform="translate(389.6 491.8) scale(0.965 1)" font-size="9.7" text-anchor="start" fill="#1c1c1c" stroke="#1c1c1c" stroke-width="0.12" font-weight="normal" >Ps</text>
<text transform="translate(408.75 491.8) scale(0.965 1)" font-size="9.7" text-anchor="start" fill="#1c1c1c" stroke="#1c1c1c" stroke-width="0.12" font-weight="normal" >Th_inn</text>
<text transform="translate(404.5 509) scale(0.965 1)" font-size="9.7" text-anchor="middle" fill="#1c1c1c" stroke="#1c1c1c" stroke-width="0.12" font-weight="normal" >Varmtvann</text>
<text transform="translate(404 521) scale(0.965 1)" font-size="9.7" text-anchor="middle" fill="#1c1c1c" stroke="#1c1c1c" stroke-width="0.12" font-weight="normal" >(varmekilde)</text>
<text transform="translate(408 423.4) scale(0.965 1)" font-size="9.7" text-anchor="start" fill="#1c1c1c" stroke="#1c1c1c" stroke-width="0.12" font-weight="normal" >Qh [m3/h]</text>
<rect x="407.25" y="426.8" width="40.35000000000002" height="17.599999999999966" fill="#c8c8c8"/>
<rect x="407.25" y="426.8" width="40.35000000000002" height="1.6" fill="#b4b4b4"/>
<rect x="407.25" y="426.8" width="1.2" height="17.599999999999966" fill="#bcbcbc"/>
<rect x="446.6" y="427.8" width="1" height="16.599999999999966" fill="#d2d2d2"/>
<rect x="408.25" y="443.4" width="39.35000000000002" height="1" fill="#d6d6d6"/>
<rect x="409.75" y="429.3" width="35.35000000000002" height="12.599999999999966" fill="#ffffff"/>
<text transform="translate(411.95 439.29999999999995) scale(0.81 1)" font-size="10.4" text-anchor="start" fill="#1a1a1a" stroke="#1a1a1a" stroke-width="0.12" font-weight="normal" >0.591</text>
<text transform="translate(444 320.8) scale(0.965 1)" font-size="9.7" text-anchor="start" fill="#1c1c1c" stroke="#1c1c1c" stroke-width="0.12" font-weight="normal" >Avstand til</text>
<text transform="translate(444 332.3) scale(0.965 1)" font-size="9.7" text-anchor="start" fill="#1c1c1c" stroke="#1c1c1c" stroke-width="0.12" font-weight="normal" >TT1, Lm [m]</text>
<text transform="translate(494 320.8) scale(0.965 1)" font-size="9.7" text-anchor="start" fill="#1c1c1c" stroke="#1c1c1c" stroke-width="0.12" font-weight="normal" >Tidsforsinkelse</text>
<text transform="translate(493.3 332.3) scale(0.965 1)" font-size="9.7" text-anchor="start" fill="#1c1c1c" stroke="#1c1c1c" stroke-width="0.12" font-weight="normal" >tilsvarende Lm [s]</text>
<ellipse cx="439.75" cy="344.9" rx="3.7500000000000115" ry="8.999999999999982" fill="#c4c4c4" stroke="#8c8c8c" stroke-width="0.9"/>
<path d="M436.7 344.90 H442.8" stroke="#a0a0a0" stroke-width="0.7"/>
<path d="M437.55 343.09999999999997 L439.75 339.4 L441.95 343.09999999999997 Z" fill="#e8e8e8" stroke="#606060" stroke-width="0.8"/>
<path d="M437.55 346.7 L439.75 350.4 L441.95 346.7 Z" fill="#e8e8e8" stroke="#606060" stroke-width="0.8"/>
<rect x="442.9" y="335.7" width="35.900000000000034" height="19.100000000000023" fill="#c8c8c8"/>
<rect x="442.9" y="335.7" width="35.900000000000034" height="1.6" fill="#b4b4b4"/>
<rect x="442.9" y="335.7" width="1.2" height="19.100000000000023" fill="#bcbcbc"/>
<rect x="477.8" y="336.7" width="1" height="18.100000000000023" fill="#d2d2d2"/>
<rect x="443.9" y="353.8" width="34.900000000000034" height="1" fill="#d6d6d6"/>
<rect x="445.4" y="338.2" width="30.900000000000034" height="14.100000000000023" fill="#ffffff"/>
<text transform="translate(447.59999999999997 349.7) scale(0.81 1)" font-size="10.4" text-anchor="start" fill="#1a1a1a" stroke="#1a1a1a" stroke-width="0.12" font-weight="normal" >1</text>
<rect x="491.7" y="335.7" width="36.80000000000001" height="19.100000000000023" fill="#c8c8c8"/>
<rect x="491.7" y="335.7" width="36.80000000000001" height="1.6" fill="#b4b4b4"/>
<rect x="491.7" y="335.7" width="1.2" height="19.100000000000023" fill="#bcbcbc"/>
<rect x="527.5" y="336.7" width="1" height="18.100000000000023" fill="#d2d2d2"/>
<rect x="492.7" y="353.8" width="35.80000000000001" height="1" fill="#d6d6d6"/>
<rect x="494.2" y="338.2" width="31.80000000000001" height="14.100000000000023" fill="#ffffff"/>
<text transform="translate(496.4 349.7) scale(0.81 1)" font-size="10.4" text-anchor="start" fill="#1a1a1a" stroke="#1a1a1a" stroke-width="0.12" font-weight="normal" >0.72</text>
<text transform="translate(213.75 404.8) scale(0.965 1)" font-size="9.7" text-anchor="start" fill="#1c1c1c" stroke="#1c1c1c" stroke-width="0.12" font-weight="normal" >Ventilåpning, u [%]</text>
<rect x="302.2" y="395.2" width="21.600000000000023" height="13.900000000000034" fill="#000"/>
<path d="M303.40 405.62 L311.70 397.42 L319.70 405.62 L323.80 402.15" fill="none" stroke="#d0d0d0" stroke-width="1"/>
<rect x="327.5" y="393.2" width="32.89999999999998" height="18.400000000000034" fill="#c8c8c8"/>
<rect x="327.5" y="393.2" width="32.89999999999998" height="1.6" fill="#b4b4b4"/>
<rect x="327.5" y="393.2" width="1.2" height="18.400000000000034" fill="#bcbcbc"/>
<rect x="359.4" y="394.2" width="1" height="17.400000000000034" fill="#d2d2d2"/>
<rect x="328.5" y="410.6" width="31.899999999999977" height="1" fill="#d6d6d6"/>
<rect x="330" y="395.7" width="27.899999999999977" height="13.400000000000034" fill="#ffffff"/>
<text transform="translate(332.2 406.5) scale(0.81 1)" font-size="10.4" text-anchor="start" fill="#1a1a1a" stroke="#1a1a1a" stroke-width="0.12" font-weight="normal" >43.5</text>
<rect x="218" y="412.6" width="139.5" height="64.89999999999998" fill="#000"/>
<path d="M224.50 412.6V477.5M230.50 412.6V477.5M235.50 412.6V477.5M241.50 412.6V477.5M246.50 412.6V477.5M252.50 412.6V477.5M258.50 412.6V477.5M263.50 412.6V477.5M269.50 412.6V477.5M274.50 412.6V477.5M280.50 412.6V477.5M285.50 412.6V477.5M291.50 412.6V477.5M297.50 412.6V477.5M302.50 412.6V477.5M308.50 412.6V477.5M313.50 412.6V477.5M319.50 412.6V477.5M325.50 412.6V477.5M330.50 412.6V477.5M336.50 412.6V477.5M341.50 412.6V477.5M347.50 412.6V477.5M352.50 412.6V477.5M218 420.50H357.5M218 426.50H357.5M218 433.50H357.5M218 439.50H357.5M218 446.50H357.5M218 452.50H357.5M218 459.50H357.5M218 465.50H357.5M218 472.50H357.5" stroke="#444444" stroke-width="1" fill="none"/>
<path d="M218.00 451.54 C222.05 451.54 238.09 451.76 242.27 451.54 C246.46 451.32 242.74 450.03 243.11 450.24 C243.48 450.46 243.81 451.22 244.50 452.84 C245.20 454.46 246.13 458.25 247.29 459.98 C248.46 461.71 250.09 462.74 251.48 463.22 C252.88 463.71 254.04 463.28 255.66 462.90 C257.29 462.52 259.62 461.38 261.25 460.95 C262.87 460.52 263.43 460.36 265.43 460.30 C267.43 460.25 271.61 461.44 273.24 460.63 C274.87 459.81 274.40 457.49 275.19 455.43 C275.99 453.38 276.82 449.86 277.99 448.30 C279.15 446.73 280.78 445.92 282.17 446.02 C283.56 446.13 277.29 448.46 286.36 448.94 C295.42 449.43 328.20 448.94 336.57 448.94" fill="none" stroke="#e8e8e8" stroke-width="1.2" stroke-linejoin="round"/>
<path d="M340.20 452.50 L357.50 452.50" fill="none" stroke="#d8d8d8" stroke-width="1.0" stroke-linejoin="round"/>
<rect x="336" y="412.6" width="1" height="64.89999999999998" fill="#500808"/>
<rect x="337" y="412.6" width="1" height="64.89999999999998" fill="#8a3038"/>
<rect x="338" y="412.6" width="1" height="64.89999999999998" fill="#500808"/>
<text transform="translate(212 481.6) scale(0.81 1)" font-size="10.4" text-anchor="end" fill="#1c1c1c" stroke="#1c1c1c" stroke-width="0.12" font-weight="normal" >0</text>
<text transform="translate(212 449.6) scale(0.81 1)" font-size="10.4" text-anchor="end" fill="#1c1c1c" stroke="#1c1c1c" stroke-width="0.12" font-weight="normal" >50</text>
<text transform="translate(212 416.6) scale(0.81 1)" font-size="10.4" text-anchor="end" fill="#1c1c1c" stroke="#1c1c1c" stroke-width="0.12" font-weight="normal" >100</text>
<text transform="translate(218.5 492.0) scale(0.81 1)" font-size="10.4" text-anchor="middle" fill="#1c1c1c" stroke="#1c1c1c" stroke-width="0.12" font-weight="normal" >5</text>
<text transform="translate(245.5 492.0) scale(0.81 1)" font-size="10.4" text-anchor="middle" fill="#1c1c1c" stroke="#1c1c1c" stroke-width="0.12" font-weight="normal" >6</text>
<text transform="translate(273.5 492.0) scale(0.81 1)" font-size="10.4" text-anchor="middle" fill="#1c1c1c" stroke="#1c1c1c" stroke-width="0.12" font-weight="normal" >7</text>
<text transform="translate(301.5 492.0) scale(0.81 1)" font-size="10.4" text-anchor="middle" fill="#1c1c1c" stroke="#1c1c1c" stroke-width="0.12" font-weight="normal" >8</text>
<text transform="translate(329.5 492.0) scale(0.81 1)" font-size="10.4" text-anchor="middle" fill="#1c1c1c" stroke="#1c1c1c" stroke-width="0.12" font-weight="normal" >9</text>
<text transform="translate(357.5 492.0) scale(0.81 1)" font-size="10.4" text-anchor="middle" fill="#1c1c1c" stroke="#1c1c1c" stroke-width="0.12" font-weight="normal" >10</text>
<path d="M215.5 412.50H217.5M215.5 419.50H217.5M215.5 425.50H217.5M215.5 432.50H217.5M215.5 438.50H217.5M215.5 445.50H217.5M215.5 451.50H217.5M215.5 458.50H217.5M215.5 464.50H217.5M215.5 471.50H217.5M215.5 477.50H217.5M213.5 477.50H217.5M213.5 445.50H217.5M213.5 412.50H217.5M218.50 478.5V480.5M223.50 478.5V480.5M229.50 478.5V480.5M234.50 478.5V480.5M240.50 478.5V480.5M245.50 478.5V480.5M251.50 478.5V480.5M257.50 478.5V480.5M262.50 478.5V480.5M268.50 478.5V480.5M273.50 478.5V480.5M279.50 478.5V480.5M284.50 478.5V480.5M290.50 478.5V480.5M296.50 478.5V480.5M301.50 478.5V480.5M307.50 478.5V480.5M312.50 478.5V480.5M318.50 478.5V480.5M324.50 478.5V480.5M329.50 478.5V480.5M335.50 478.5V480.5M340.50 478.5V480.5M346.50 478.5V480.5M351.50 478.5V480.5M357.50 478.5V480.5M218.50 478.5V482.5M245.50 478.5V482.5M273.50 478.5V482.5M301.50 478.5V482.5M329.50 478.5V482.5M357.50 478.5V482.5" stroke="#303030" stroke-width="1" fill="none"/>
<text transform="translate(274 507) scale(0.965 1)" font-size="9.7" text-anchor="start" fill="#1c1c1c" stroke="#1c1c1c" stroke-width="0.12" font-weight="normal" >t [min]</text>
<text transform="translate(123.75 522) scale(0.965 1)" font-size="9.7" text-anchor="start" fill="#1c1c1c" stroke="#1c1c1c" stroke-width="0.12" font-weight="normal" >Forsyningstrykk,</text>
<text transform="translate(123.75 533.7) scale(0.965 1)" font-size="9.7" text-anchor="start" fill="#1c1c1c" stroke="#1c1c1c" stroke-width="0.12" font-weight="normal" >Ps [barg]</text>
<text transform="translate(196.25 524.5) scale(0.965 1)" font-size="9.7" text-anchor="start" fill="#1c1c1c" stroke="#1c1c1c" stroke-width="0.12" font-weight="normal" >Trykkfall over</text>
<text transform="translate(196.25 537) scale(0.965 1)" font-size="9.7" text-anchor="start" fill="#1c1c1c" stroke="#1c1c1c" stroke-width="0.12" font-weight="normal" >ventil, pv [bar]</text>
<text transform="translate(266 523.8) scale(0.965 1)" font-size="9.7" text-anchor="start" fill="#1c1c1c" stroke="#1c1c1c" stroke-width="0.12" font-weight="normal" >Trykkfall over</text>
<text transform="translate(266 535) scale(0.965 1)" font-size="9.7" text-anchor="start" fill="#1c1c1c" stroke="#1c1c1c" stroke-width="0.12" font-weight="normal" >varmeveksler, ph [bar]</text>
<ellipse cx="128.7" cy="547.7" rx="3.699999999999993" ry="9.00000000000001" fill="#c4c4c4" stroke="#8c8c8c" stroke-width="0.9"/>
<path d="M125.69999999999999 547.70 H131.7" stroke="#a0a0a0" stroke-width="0.7"/>
<path d="M126.49999999999999 545.9000000000001 L128.7 542.2 L130.89999999999998 545.9000000000001 Z" fill="#e8e8e8" stroke="#606060" stroke-width="0.8"/>
<path d="M126.49999999999999 549.5 L128.7 553.2 L130.89999999999998 549.5 Z" fill="#e8e8e8" stroke="#606060" stroke-width="0.8"/>
<rect x="132.0" y="539.2" width="32.69999999999999" height="23.299999999999955" fill="#c8c8c8"/>
<rect x="132.0" y="539.2" width="32.69999999999999" height="1.6" fill="#b4b4b4"/>
<rect x="132.0" y="539.2" width="1.2" height="23.299999999999955" fill="#bcbcbc"/>
<rect x="163.7" y="540.2" width="1" height="22.299999999999955" fill="#d2d2d2"/>
<rect x="133.0" y="561.5" width="31.69999999999999" height="1" fill="#d6d6d6"/>
<rect x="134.5" y="541.7" width="27.69999999999999" height="18.299999999999955" fill="#ffffff"/>
<text transform="translate(136.7 552.2) scale(0.81 1)" font-size="10.4" text-anchor="start" fill="#1a1a1a" stroke="#1a1a1a" stroke-width="0.12" font-weight="normal" >5</text>
<text transform="translate(179.3 552) scale(0.965 1)" font-size="9.7" text-anchor="middle" fill="#1c1c1c" stroke="#1c1c1c" stroke-width="0.12" font-weight="normal" >=</text>
<rect x="196.0" y="539.2" width="36.19999999999999" height="23.299999999999955" fill="#c8c8c8"/>
<rect x="196.0" y="539.2" width="36.19999999999999" height="1.6" fill="#b4b4b4"/>
<rect x="196.0" y="539.2" width="1.2" height="23.299999999999955" fill="#bcbcbc"/>
<rect x="231.2" y="540.2" width="1" height="22.299999999999955" fill="#d2d2d2"/>
<rect x="197.0" y="561.5" width="35.19999999999999" height="1" fill="#d6d6d6"/>
<rect x="198.5" y="541.7" width="31.19999999999999" height="18.299999999999955" fill="#ffffff"/>
<text transform="translate(200.7 552.2) scale(0.81 1)" font-size="10.4" text-anchor="start" fill="#1a1a1a" stroke="#1a1a1a" stroke-width="0.12" font-weight="normal" >4.65</text>
<text transform="translate(250.6 552) scale(0.965 1)" font-size="9.7" text-anchor="middle" fill="#1c1c1c" stroke="#1c1c1c" stroke-width="0.12" font-weight="normal" >+</text>
<rect x="265.7" y="539.8" width="36.5" height="22.700000000000045" fill="#c8c8c8"/>
<rect x="265.7" y="539.8" width="36.5" height="1.6" fill="#b4b4b4"/>
<rect x="265.7" y="539.8" width="1.2" height="22.700000000000045" fill="#bcbcbc"/>
<rect x="301.2" y="540.8" width="1" height="21.700000000000045" fill="#d2d2d2"/>
<rect x="266.7" y="561.5" width="35.5" height="1" fill="#d6d6d6"/>
<rect x="268.2" y="542.3" width="31.5" height="17.700000000000045" fill="#ffffff"/>
<text transform="translate(270.4 552.6) scale(0.81 1)" font-size="10.4" text-anchor="start" fill="#1a1a1a" stroke="#1a1a1a" stroke-width="0.12" font-weight="normal" >0.35</text>
<text transform="translate(382.8 535) scale(0.965 1)" font-size="9.7" text-anchor="start" fill="#1c1c1c" stroke="#1c1c1c" stroke-width="0.12" font-weight="normal" >Th_inn [C]</text>
<ellipse cx="383.8" cy="549.0" rx="3.7" ry="8.7" fill="#c4c4c4" stroke="#8c8c8c" stroke-width="0.9"/>
<path d="M380.8 549.00 H386.8" stroke="#a0a0a0" stroke-width="0.7"/>
<path d="M381.6 547.2 L383.8 543.5 L386.0 547.2 Z" fill="#e8e8e8" stroke="#606060" stroke-width="0.8"/>
<path d="M381.6 550.8 L383.8 554.5 L386.0 550.8 Z" fill="#e8e8e8" stroke="#606060" stroke-width="0.8"/>
<rect x="387.2" y="540.3" width="29.30000000000001" height="22.200000000000045" fill="#c8c8c8"/>
<rect x="387.2" y="540.3" width="29.30000000000001" height="1.6" fill="#b4b4b4"/>
<rect x="387.2" y="540.3" width="1.2" height="22.200000000000045" fill="#bcbcbc"/>
<rect x="415.5" y="541.3" width="1" height="21.200000000000045" fill="#d2d2d2"/>
<rect x="388.2" y="561.5" width="28.30000000000001" height="1" fill="#d6d6d6"/>
<rect x="389.7" y="542.8" width="24.30000000000001" height="17.200000000000045" fill="#ffffff"/>
<text transform="translate(391.9 553) scale(0.81 1)" font-size="10.4" text-anchor="start" fill="#1a1a1a" stroke="#1a1a1a" stroke-width="0.12" font-weight="normal" >80</text></svg>
</body></html>
